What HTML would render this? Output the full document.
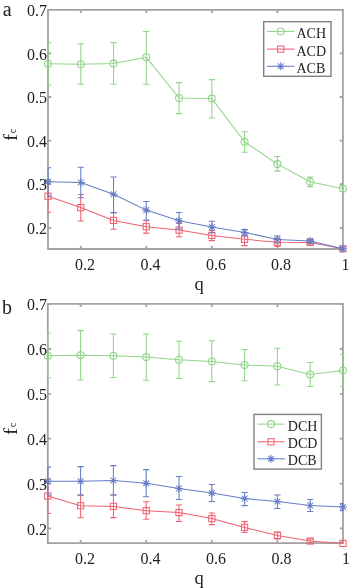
<!DOCTYPE html>
<html><head><meta charset="utf-8"><style>
html,body{margin:0;padding:0;background:#fff;}
body{width:350px;height:588px;overflow:hidden;}
svg{display:block;will-change:transform;}
text{font-family:"Liberation Serif",serif;fill:#222;}
.tk{font-size:16px;}
.lg{font-size:14px;}
.lb{font-size:18.5px;}
.sub{font-size:10.5px;}
</style></head><body>
<svg width="350" height="588" viewBox="0 0 350 588">
<clipPath id="ca"><rect x="47.40" y="9.20" width="296.10" height="240.40"/></clipPath>
<path d="M48.0 9.8H342.9V249.0H48.0ZM48.0 9.8H51.2M342.9 9.8H339.7M48.0 53.4H51.2M342.9 53.4H339.7M48.0 97.0H51.2M342.9 97.0H339.7M48.0 140.6H51.2M342.9 140.6H339.7M48.0 184.2H51.2M342.9 184.2H339.7M48.0 227.8H51.2M342.9 227.8H339.7M80.77 249.0V245.8M80.77 9.8V13.0M146.30 249.0V245.8M146.30 9.8V13.0M211.83 249.0V245.8M211.83 9.8V13.0M277.37 249.0V245.8M277.37 9.8V13.0" fill="none" stroke="#a2a2a2" stroke-width="1.8"/>
<g clip-path="url(#ca)">
<path d="M48.00 63.80 L80.77 64.30 L113.53 63.60 L146.30 57.30 L179.07 98.00 L211.83 98.60 L244.60 141.80 L277.37 164.10 L310.13 181.80 L342.90 188.80" fill="none" stroke="#90d588" stroke-width="1.05" stroke-linejoin="round"/>
<path d="M48.00 42.60V84.90M44.90 42.60H51.10M44.90 84.90H51.10" stroke="#90d588" stroke-width="1.05" fill="none"/>
<path d="M80.77 43.70V84.20M77.67 43.70H83.87M77.67 84.20H83.87" stroke="#90d588" stroke-width="1.05" fill="none"/>
<path d="M113.53 42.60V84.20M110.43 42.60H116.63M110.43 84.20H116.63" stroke="#90d588" stroke-width="1.05" fill="none"/>
<path d="M146.30 31.40V84.30M143.20 31.40H149.40M143.20 84.30H149.40" stroke="#90d588" stroke-width="1.05" fill="none"/>
<path d="M179.07 82.60V113.60M175.97 82.60H182.17M175.97 113.60H182.17" stroke="#90d588" stroke-width="1.05" fill="none"/>
<path d="M211.83 79.60V118.00M208.73 79.60H214.93M208.73 118.00H214.93" stroke="#90d588" stroke-width="1.05" fill="none"/>
<path d="M244.60 131.70V152.20M241.50 131.70H247.70M241.50 152.20H247.70" stroke="#90d588" stroke-width="1.05" fill="none"/>
<path d="M277.37 156.50V171.10M274.27 156.50H280.47M274.27 171.10H280.47" stroke="#90d588" stroke-width="1.05" fill="none"/>
<path d="M310.13 177.10V186.60M307.03 177.10H313.23M307.03 186.60H313.23" stroke="#90d588" stroke-width="1.05" fill="none"/>
<path d="M342.90 186.00V191.50M339.80 186.00H346.00M339.80 191.50H346.00" stroke="#90d588" stroke-width="1.05" fill="none"/>
</g>
<circle cx="48.00" cy="63.80" r="3.5" fill="none" stroke="#90d588" stroke-width="1.05"/>
<circle cx="80.77" cy="64.30" r="3.5" fill="none" stroke="#90d588" stroke-width="1.05"/>
<circle cx="113.53" cy="63.60" r="3.5" fill="none" stroke="#90d588" stroke-width="1.05"/>
<circle cx="146.30" cy="57.30" r="3.5" fill="none" stroke="#90d588" stroke-width="1.05"/>
<circle cx="179.07" cy="98.00" r="3.5" fill="none" stroke="#90d588" stroke-width="1.05"/>
<circle cx="211.83" cy="98.60" r="3.5" fill="none" stroke="#90d588" stroke-width="1.05"/>
<circle cx="244.60" cy="141.80" r="3.5" fill="none" stroke="#90d588" stroke-width="1.05"/>
<circle cx="277.37" cy="164.10" r="3.5" fill="none" stroke="#90d588" stroke-width="1.05"/>
<circle cx="310.13" cy="181.80" r="3.5" fill="none" stroke="#90d588" stroke-width="1.05"/>
<circle cx="342.90" cy="188.80" r="3.5" fill="none" stroke="#90d588" stroke-width="1.05"/>
<g clip-path="url(#ca)">
<path d="M48.00 196.20 L80.77 207.60 L113.53 220.40 L146.30 226.70 L179.07 230.10 L211.83 235.50 L244.60 239.30 L277.37 242.30 L310.13 242.50 L342.90 248.80" fill="none" stroke="#ef6270" stroke-width="1.05" stroke-linejoin="round"/>
<path d="M48.00 180.00V212.30M44.90 180.00H51.10M44.90 212.30H51.10" stroke="#ef6270" stroke-width="1.05" fill="none"/>
<path d="M80.77 194.40V221.00M77.67 194.40H83.87M77.67 221.00H83.87" stroke="#ef6270" stroke-width="1.05" fill="none"/>
<path d="M113.53 212.80V229.20M110.43 212.80H116.63M110.43 229.20H116.63" stroke="#ef6270" stroke-width="1.05" fill="none"/>
<path d="M146.30 220.70V233.10M143.20 220.70H149.40M143.20 233.10H149.40" stroke="#ef6270" stroke-width="1.05" fill="none"/>
<path d="M179.07 223.50V236.70M175.97 223.50H182.17M175.97 236.70H182.17" stroke="#ef6270" stroke-width="1.05" fill="none"/>
<path d="M211.83 230.50V240.60M208.73 230.50H214.93M208.73 240.60H214.93" stroke="#ef6270" stroke-width="1.05" fill="none"/>
<path d="M244.60 233.00V245.60M241.50 233.00H247.70M241.50 245.60H247.70" stroke="#ef6270" stroke-width="1.05" fill="none"/>
<path d="M277.37 238.50V246.30M274.27 238.50H280.47M274.27 246.30H280.47" stroke="#ef6270" stroke-width="1.05" fill="none"/>
<path d="M310.13 241.00V244.00M307.03 241.00H313.23M307.03 244.00H313.23" stroke="#ef6270" stroke-width="1.05" fill="none"/>
<path d="M342.90 247.80V249.80M339.80 247.80H346.00M339.80 249.80H346.00" stroke="#ef6270" stroke-width="1.05" fill="none"/>
</g>
<rect x="44.90" y="193.10" width="6.20" height="6.20" fill="none" stroke="#ef6270" stroke-width="1.05"/>
<rect x="77.67" y="204.50" width="6.20" height="6.20" fill="none" stroke="#ef6270" stroke-width="1.05"/>
<rect x="110.43" y="217.30" width="6.20" height="6.20" fill="none" stroke="#ef6270" stroke-width="1.05"/>
<rect x="143.20" y="223.60" width="6.20" height="6.20" fill="none" stroke="#ef6270" stroke-width="1.05"/>
<rect x="175.97" y="227.00" width="6.20" height="6.20" fill="none" stroke="#ef6270" stroke-width="1.05"/>
<rect x="208.73" y="232.40" width="6.20" height="6.20" fill="none" stroke="#ef6270" stroke-width="1.05"/>
<rect x="241.50" y="236.20" width="6.20" height="6.20" fill="none" stroke="#ef6270" stroke-width="1.05"/>
<rect x="274.27" y="239.20" width="6.20" height="6.20" fill="none" stroke="#ef6270" stroke-width="1.05"/>
<rect x="307.03" y="239.40" width="6.20" height="6.20" fill="none" stroke="#ef6270" stroke-width="1.05"/>
<rect x="339.80" y="245.70" width="6.20" height="6.20" fill="none" stroke="#ef6270" stroke-width="1.05"/>
<g clip-path="url(#ca)">
<path d="M48.00 181.80 L80.77 182.40 L113.53 194.30 L146.30 210.10 L179.07 220.70 L211.83 227.00 L244.60 232.40 L277.37 239.40 L310.13 241.10 L342.90 248.80" fill="none" stroke="#657ec6" stroke-width="1.05" stroke-linejoin="round"/>
<path d="M48.00 167.70V195.90M44.90 167.70H51.10M44.90 195.90H51.10" stroke="#657ec6" stroke-width="1.05" fill="none"/>
<path d="M80.77 167.20V197.70M77.67 167.20H83.87M77.67 197.70H83.87" stroke="#657ec6" stroke-width="1.05" fill="none"/>
<path d="M113.53 176.90V212.60M110.43 176.90H116.63M110.43 212.60H116.63" stroke="#657ec6" stroke-width="1.05" fill="none"/>
<path d="M146.30 201.50V219.90M143.20 201.50H149.40M143.20 219.90H149.40" stroke="#657ec6" stroke-width="1.05" fill="none"/>
<path d="M179.07 212.50V228.90M175.97 212.50H182.17M175.97 228.90H182.17" stroke="#657ec6" stroke-width="1.05" fill="none"/>
<path d="M211.83 221.30V232.70M208.73 221.30H214.93M208.73 232.70H214.93" stroke="#657ec6" stroke-width="1.05" fill="none"/>
<path d="M244.60 229.50V235.30M241.50 229.50H247.70M241.50 235.30H247.70" stroke="#657ec6" stroke-width="1.05" fill="none"/>
<path d="M277.37 235.90V242.90M274.27 235.90H280.47M274.27 242.90H280.47" stroke="#657ec6" stroke-width="1.05" fill="none"/>
<path d="M310.13 239.00V243.20M307.03 239.00H313.23M307.03 243.20H313.23" stroke="#657ec6" stroke-width="1.05" fill="none"/>
<path d="M342.90 247.80V249.80M339.80 247.80H346.00M339.80 249.80H346.00" stroke="#657ec6" stroke-width="1.05" fill="none"/>
</g>
<path d="M44.00 181.80H52.00M48.00 177.80V185.80M45.10 178.90L50.90 184.70M45.10 184.70L50.90 178.90" stroke="#657ec6" stroke-width="1.05" fill="none"/>
<path d="M76.77 182.40H84.77M80.77 178.40V186.40M77.87 179.50L83.67 185.30M77.87 185.30L83.67 179.50" stroke="#657ec6" stroke-width="1.05" fill="none"/>
<path d="M109.53 194.30H117.53M113.53 190.30V198.30M110.63 191.40L116.43 197.20M110.63 197.20L116.43 191.40" stroke="#657ec6" stroke-width="1.05" fill="none"/>
<path d="M142.30 210.10H150.30M146.30 206.10V214.10M143.40 207.20L149.20 213.00M143.40 213.00L149.20 207.20" stroke="#657ec6" stroke-width="1.05" fill="none"/>
<path d="M175.07 220.70H183.07M179.07 216.70V224.70M176.17 217.80L181.97 223.60M176.17 223.60L181.97 217.80" stroke="#657ec6" stroke-width="1.05" fill="none"/>
<path d="M207.83 227.00H215.83M211.83 223.00V231.00M208.93 224.10L214.73 229.90M208.93 229.90L214.73 224.10" stroke="#657ec6" stroke-width="1.05" fill="none"/>
<path d="M240.60 232.40H248.60M244.60 228.40V236.40M241.70 229.50L247.50 235.30M241.70 235.30L247.50 229.50" stroke="#657ec6" stroke-width="1.05" fill="none"/>
<path d="M273.37 239.40H281.37M277.37 235.40V243.40M274.47 236.50L280.27 242.30M274.47 242.30L280.27 236.50" stroke="#657ec6" stroke-width="1.05" fill="none"/>
<path d="M306.13 241.10H314.13M310.13 237.10V245.10M307.23 238.20L313.03 244.00M307.23 244.00L313.03 238.20" stroke="#657ec6" stroke-width="1.05" fill="none"/>
<path d="M338.90 248.80H346.90M342.90 244.80V252.80M340.00 245.90L345.80 251.70M340.00 251.70L345.80 245.90" stroke="#657ec6" stroke-width="1.05" fill="none"/>
<rect x="263.7" y="21.7" width="67.3" height="54.6" fill="#fff" stroke="#808080" stroke-width="1.4"/>
<path d="M267.0 31.4H294.5" stroke="#90d588" stroke-width="1.05"/>
<circle cx="280.70" cy="31.40" r="3.5" fill="none" stroke="#90d588" stroke-width="1.05"/>
<text x="296.5" y="37.9" class="lg">ACH</text>
<path d="M267.0 49.1H294.5" stroke="#ef6270" stroke-width="1.05"/>
<rect x="277.60" y="46.00" width="6.20" height="6.20" fill="none" stroke="#ef6270" stroke-width="1.05"/>
<text x="296.5" y="55.6" class="lg">ACD</text>
<path d="M267.0 66.3H294.5" stroke="#657ec6" stroke-width="1.05"/>
<path d="M276.70 66.30H284.70M280.70 62.30V70.30M277.80 63.40L283.60 69.20M277.80 69.20L283.60 63.40" stroke="#657ec6" stroke-width="1.05" fill="none"/>
<text x="296.5" y="72.8" class="lg">ACB</text>
<text x="47.0" y="16.00" text-anchor="end" class="tk">0.7</text>
<text x="47.0" y="59.60" text-anchor="end" class="tk">0.6</text>
<text x="47.0" y="103.20" text-anchor="end" class="tk">0.5</text>
<text x="47.0" y="146.80" text-anchor="end" class="tk">0.4</text>
<text x="47.0" y="190.40" text-anchor="end" class="tk">0.3</text>
<text x="47.0" y="234.00" text-anchor="end" class="tk">0.2</text>
<text x="85.00" y="269.80" text-anchor="middle" class="tk">0.2</text>
<text x="150.40" y="269.80" text-anchor="middle" class="tk">0.4</text>
<text x="216.10" y="269.80" text-anchor="middle" class="tk">0.6</text>
<text x="280.90" y="269.80" text-anchor="middle" class="tk">0.8</text>
<text x="345.60" y="269.80" text-anchor="middle" class="tk">1</text>
<text x="2.8" y="15.8" class="lb" style="font-size:20px">a</text>
<g transform="translate(16.8 141.0) rotate(-90)"><text x="0" y="0" class="lb" transform="scale(1.12 1)">f</text><text x="7.75" y="-0.4" class="sub">c</text></g>
<text x="199" y="289.7" text-anchor="middle" class="lb">q</text>
<clipPath id="cb"><rect x="47.20" y="303.30" width="296.40" height="240.40"/></clipPath>
<path d="M47.8 303.9H343.0V543.1H47.8ZM47.8 304.2H51.0M343.0 304.2H339.8M47.8 349.0H51.0M343.0 349.0H339.8M47.8 393.9H51.0M343.0 393.9H339.8M47.8 438.7H51.0M343.0 438.7H339.8M47.8 483.6H51.0M343.0 483.6H339.8M47.8 528.4H51.0M343.0 528.4H339.8M80.60 543.1V539.9M80.60 303.9V307.09999999999997M146.20 543.1V539.9M146.20 303.9V307.09999999999997M211.80 543.1V539.9M211.80 303.9V307.09999999999997M277.40 543.1V539.9M277.40 303.9V307.09999999999997" fill="none" stroke="#a2a2a2" stroke-width="1.8"/>
<g clip-path="url(#cb)">
<path d="M47.80 355.70 L80.60 355.30 L113.40 355.70 L146.20 357.10 L179.00 359.70 L211.80 361.50 L244.60 365.00 L277.40 366.20 L310.20 374.50 L343.00 370.40" fill="none" stroke="#90d588" stroke-width="1.05" stroke-linejoin="round"/>
<path d="M47.80 333.30V377.70M44.70 333.30H50.90M44.70 377.70H50.90" stroke="#90d588" stroke-width="1.05" fill="none"/>
<path d="M80.60 330.60V380.00M77.50 330.60H83.70M77.50 380.00H83.70" stroke="#90d588" stroke-width="1.05" fill="none"/>
<path d="M113.40 334.00V377.40M110.30 334.00H116.50M110.30 377.40H116.50" stroke="#90d588" stroke-width="1.05" fill="none"/>
<path d="M146.20 334.00V380.30M143.10 334.00H149.30M143.10 380.30H149.30" stroke="#90d588" stroke-width="1.05" fill="none"/>
<path d="M179.00 341.20V378.50M175.90 341.20H182.10M175.90 378.50H182.10" stroke="#90d588" stroke-width="1.05" fill="none"/>
<path d="M211.80 340.70V381.60M208.70 340.70H214.90M208.70 381.60H214.90" stroke="#90d588" stroke-width="1.05" fill="none"/>
<path d="M244.60 349.40V380.80M241.50 349.40H247.70M241.50 380.80H247.70" stroke="#90d588" stroke-width="1.05" fill="none"/>
<path d="M277.40 348.20V384.90M274.30 348.20H280.50M274.30 384.90H280.50" stroke="#90d588" stroke-width="1.05" fill="none"/>
<path d="M310.20 362.50V386.50M307.10 362.50H313.30M307.10 386.50H313.30" stroke="#90d588" stroke-width="1.05" fill="none"/>
<path d="M343.00 354.40V386.50M339.90 354.40H346.10M339.90 386.50H346.10" stroke="#90d588" stroke-width="1.05" fill="none"/>
</g>
<circle cx="47.80" cy="355.70" r="3.5" fill="none" stroke="#90d588" stroke-width="1.05"/>
<circle cx="80.60" cy="355.30" r="3.5" fill="none" stroke="#90d588" stroke-width="1.05"/>
<circle cx="113.40" cy="355.70" r="3.5" fill="none" stroke="#90d588" stroke-width="1.05"/>
<circle cx="146.20" cy="357.10" r="3.5" fill="none" stroke="#90d588" stroke-width="1.05"/>
<circle cx="179.00" cy="359.70" r="3.5" fill="none" stroke="#90d588" stroke-width="1.05"/>
<circle cx="211.80" cy="361.50" r="3.5" fill="none" stroke="#90d588" stroke-width="1.05"/>
<circle cx="244.60" cy="365.00" r="3.5" fill="none" stroke="#90d588" stroke-width="1.05"/>
<circle cx="277.40" cy="366.20" r="3.5" fill="none" stroke="#90d588" stroke-width="1.05"/>
<circle cx="310.20" cy="374.50" r="3.5" fill="none" stroke="#90d588" stroke-width="1.05"/>
<circle cx="343.00" cy="370.40" r="3.5" fill="none" stroke="#90d588" stroke-width="1.05"/>
<g clip-path="url(#cb)">
<path d="M47.80 496.10 L80.60 505.70 L113.40 506.40 L146.20 510.70 L179.00 512.60 L211.80 518.60 L244.60 527.40 L277.40 535.40 L310.20 541.00 L343.00 543.40" fill="none" stroke="#ef6270" stroke-width="1.05" stroke-linejoin="round"/>
<path d="M47.80 479.00V513.40M44.70 479.00H50.90M44.70 513.40H50.90" stroke="#ef6270" stroke-width="1.05" fill="none"/>
<path d="M80.60 495.20V517.80M77.50 495.20H83.70M77.50 517.80H83.70" stroke="#ef6270" stroke-width="1.05" fill="none"/>
<path d="M113.40 495.00V517.60M110.30 495.00H116.50M110.30 517.60H116.50" stroke="#ef6270" stroke-width="1.05" fill="none"/>
<path d="M146.20 501.80V519.30M143.10 501.80H149.30M143.10 519.30H149.30" stroke="#ef6270" stroke-width="1.05" fill="none"/>
<path d="M179.00 505.00V521.40M175.90 505.00H182.10M175.90 521.40H182.10" stroke="#ef6270" stroke-width="1.05" fill="none"/>
<path d="M211.80 513.00V524.60M208.70 513.00H214.90M208.70 524.60H214.90" stroke="#ef6270" stroke-width="1.05" fill="none"/>
<path d="M244.60 521.60V532.40M241.50 521.60H247.70M241.50 532.40H247.70" stroke="#ef6270" stroke-width="1.05" fill="none"/>
<path d="M277.40 532.00V539.00M274.30 532.00H280.50M274.30 539.00H280.50" stroke="#ef6270" stroke-width="1.05" fill="none"/>
<path d="M310.20 539.00V543.00M307.10 539.00H313.30M307.10 543.00H313.30" stroke="#ef6270" stroke-width="1.05" fill="none"/>
<path d="M343.00 542.00V544.50M339.90 542.00H346.10M339.90 544.50H346.10" stroke="#ef6270" stroke-width="1.05" fill="none"/>
</g>
<rect x="44.70" y="493.00" width="6.20" height="6.20" fill="none" stroke="#ef6270" stroke-width="1.05"/>
<rect x="77.50" y="502.60" width="6.20" height="6.20" fill="none" stroke="#ef6270" stroke-width="1.05"/>
<rect x="110.30" y="503.30" width="6.20" height="6.20" fill="none" stroke="#ef6270" stroke-width="1.05"/>
<rect x="143.10" y="507.60" width="6.20" height="6.20" fill="none" stroke="#ef6270" stroke-width="1.05"/>
<rect x="175.90" y="509.50" width="6.20" height="6.20" fill="none" stroke="#ef6270" stroke-width="1.05"/>
<rect x="208.70" y="515.50" width="6.20" height="6.20" fill="none" stroke="#ef6270" stroke-width="1.05"/>
<rect x="241.50" y="524.30" width="6.20" height="6.20" fill="none" stroke="#ef6270" stroke-width="1.05"/>
<rect x="274.30" y="532.30" width="6.20" height="6.20" fill="none" stroke="#ef6270" stroke-width="1.05"/>
<rect x="307.10" y="537.90" width="6.20" height="6.20" fill="none" stroke="#ef6270" stroke-width="1.05"/>
<rect x="339.90" y="540.30" width="6.20" height="6.20" fill="none" stroke="#ef6270" stroke-width="1.05"/>
<g clip-path="url(#cb)">
<path d="M47.80 481.20 L80.60 481.20 L113.40 480.40 L146.20 483.30 L179.00 488.40 L211.80 493.00 L244.60 498.60 L277.40 501.60 L310.20 505.40 L343.00 507.00" fill="none" stroke="#657ec6" stroke-width="1.05" stroke-linejoin="round"/>
<path d="M47.80 467.10V495.30M44.70 467.10H50.90M44.70 495.30H50.90" stroke="#657ec6" stroke-width="1.05" fill="none"/>
<path d="M80.60 466.60V494.90M77.50 466.60H83.70M77.50 494.90H83.70" stroke="#657ec6" stroke-width="1.05" fill="none"/>
<path d="M113.40 465.60V495.00M110.30 465.60H116.50M110.30 495.00H116.50" stroke="#657ec6" stroke-width="1.05" fill="none"/>
<path d="M146.20 469.60V496.70M143.10 469.60H149.30M143.10 496.70H149.30" stroke="#657ec6" stroke-width="1.05" fill="none"/>
<path d="M179.00 476.40V499.40M175.90 476.40H182.10M175.90 499.40H182.10" stroke="#657ec6" stroke-width="1.05" fill="none"/>
<path d="M211.80 484.40V501.40M208.70 484.40H214.90M208.70 501.40H214.90" stroke="#657ec6" stroke-width="1.05" fill="none"/>
<path d="M244.60 492.40V505.60M241.50 492.40H247.70M241.50 505.60H247.70" stroke="#657ec6" stroke-width="1.05" fill="none"/>
<path d="M277.40 495.00V508.40M274.30 495.00H280.50M274.30 508.40H280.50" stroke="#657ec6" stroke-width="1.05" fill="none"/>
<path d="M310.20 499.40V511.40M307.10 499.40H313.30M307.10 511.40H313.30" stroke="#657ec6" stroke-width="1.05" fill="none"/>
<path d="M343.00 503.40V510.60M339.90 503.40H346.10M339.90 510.60H346.10" stroke="#657ec6" stroke-width="1.05" fill="none"/>
</g>
<path d="M43.80 481.20H51.80M47.80 477.20V485.20M44.90 478.30L50.70 484.10M44.90 484.10L50.70 478.30" stroke="#657ec6" stroke-width="1.05" fill="none"/>
<path d="M76.60 481.20H84.60M80.60 477.20V485.20M77.70 478.30L83.50 484.10M77.70 484.10L83.50 478.30" stroke="#657ec6" stroke-width="1.05" fill="none"/>
<path d="M109.40 480.40H117.40M113.40 476.40V484.40M110.50 477.50L116.30 483.30M110.50 483.30L116.30 477.50" stroke="#657ec6" stroke-width="1.05" fill="none"/>
<path d="M142.20 483.30H150.20M146.20 479.30V487.30M143.30 480.40L149.10 486.20M143.30 486.20L149.10 480.40" stroke="#657ec6" stroke-width="1.05" fill="none"/>
<path d="M175.00 488.40H183.00M179.00 484.40V492.40M176.10 485.50L181.90 491.30M176.10 491.30L181.90 485.50" stroke="#657ec6" stroke-width="1.05" fill="none"/>
<path d="M207.80 493.00H215.80M211.80 489.00V497.00M208.90 490.10L214.70 495.90M208.90 495.90L214.70 490.10" stroke="#657ec6" stroke-width="1.05" fill="none"/>
<path d="M240.60 498.60H248.60M244.60 494.60V502.60M241.70 495.70L247.50 501.50M241.70 501.50L247.50 495.70" stroke="#657ec6" stroke-width="1.05" fill="none"/>
<path d="M273.40 501.60H281.40M277.40 497.60V505.60M274.50 498.70L280.30 504.50M274.50 504.50L280.30 498.70" stroke="#657ec6" stroke-width="1.05" fill="none"/>
<path d="M306.20 505.40H314.20M310.20 501.40V509.40M307.30 502.50L313.10 508.30M307.30 508.30L313.10 502.50" stroke="#657ec6" stroke-width="1.05" fill="none"/>
<path d="M339.00 507.00H347.00M343.00 503.00V511.00M340.10 504.10L345.90 509.90M340.10 509.90L345.90 504.10" stroke="#657ec6" stroke-width="1.05" fill="none"/>
<rect x="254.0" y="414.4" width="67.4" height="54.7" fill="#fff" stroke="#808080" stroke-width="1.4"/>
<path d="M257.3 424.1H284.8" stroke="#90d588" stroke-width="1.05"/>
<circle cx="271.00" cy="424.10" r="3.5" fill="none" stroke="#90d588" stroke-width="1.05"/>
<text x="287.8" y="430.6" class="lg">DCH</text>
<path d="M257.3 441.8H284.8" stroke="#ef6270" stroke-width="1.05"/>
<rect x="267.90" y="438.70" width="6.20" height="6.20" fill="none" stroke="#ef6270" stroke-width="1.05"/>
<text x="287.8" y="448.3" class="lg">DCD</text>
<path d="M257.3 458.8H284.8" stroke="#657ec6" stroke-width="1.05"/>
<path d="M267.00 458.80H275.00M271.00 454.80V462.80M268.10 455.90L273.90 461.70M268.10 461.70L273.90 455.90" stroke="#657ec6" stroke-width="1.05" fill="none"/>
<text x="287.8" y="465.3" class="lg">DCB</text>
<text x="47.0" y="310.40" text-anchor="end" class="tk">0.7</text>
<text x="47.0" y="355.20" text-anchor="end" class="tk">0.6</text>
<text x="47.0" y="400.10" text-anchor="end" class="tk">0.5</text>
<text x="47.0" y="444.90" text-anchor="end" class="tk">0.4</text>
<text x="47.0" y="489.80" text-anchor="end" class="tk">0.3</text>
<text x="47.0" y="534.60" text-anchor="end" class="tk">0.2</text>
<text x="85.00" y="563.90" text-anchor="middle" class="tk">0.2</text>
<text x="150.40" y="563.90" text-anchor="middle" class="tk">0.4</text>
<text x="216.10" y="563.90" text-anchor="middle" class="tk">0.6</text>
<text x="281.60" y="563.90" text-anchor="middle" class="tk">0.8</text>
<text x="346.00" y="563.90" text-anchor="middle" class="tk">1</text>
<text x="2.1" y="313.8" class="lb" style="font-size:20px">b</text>
<g transform="translate(16.8 435.1) rotate(-90)"><text x="0" y="0" class="lb" transform="scale(1.12 1)">f</text><text x="7.75" y="-0.4" class="sub">c</text></g>
<text x="199" y="583.8" text-anchor="middle" class="lb">q</text>
</svg>
</body></html>
